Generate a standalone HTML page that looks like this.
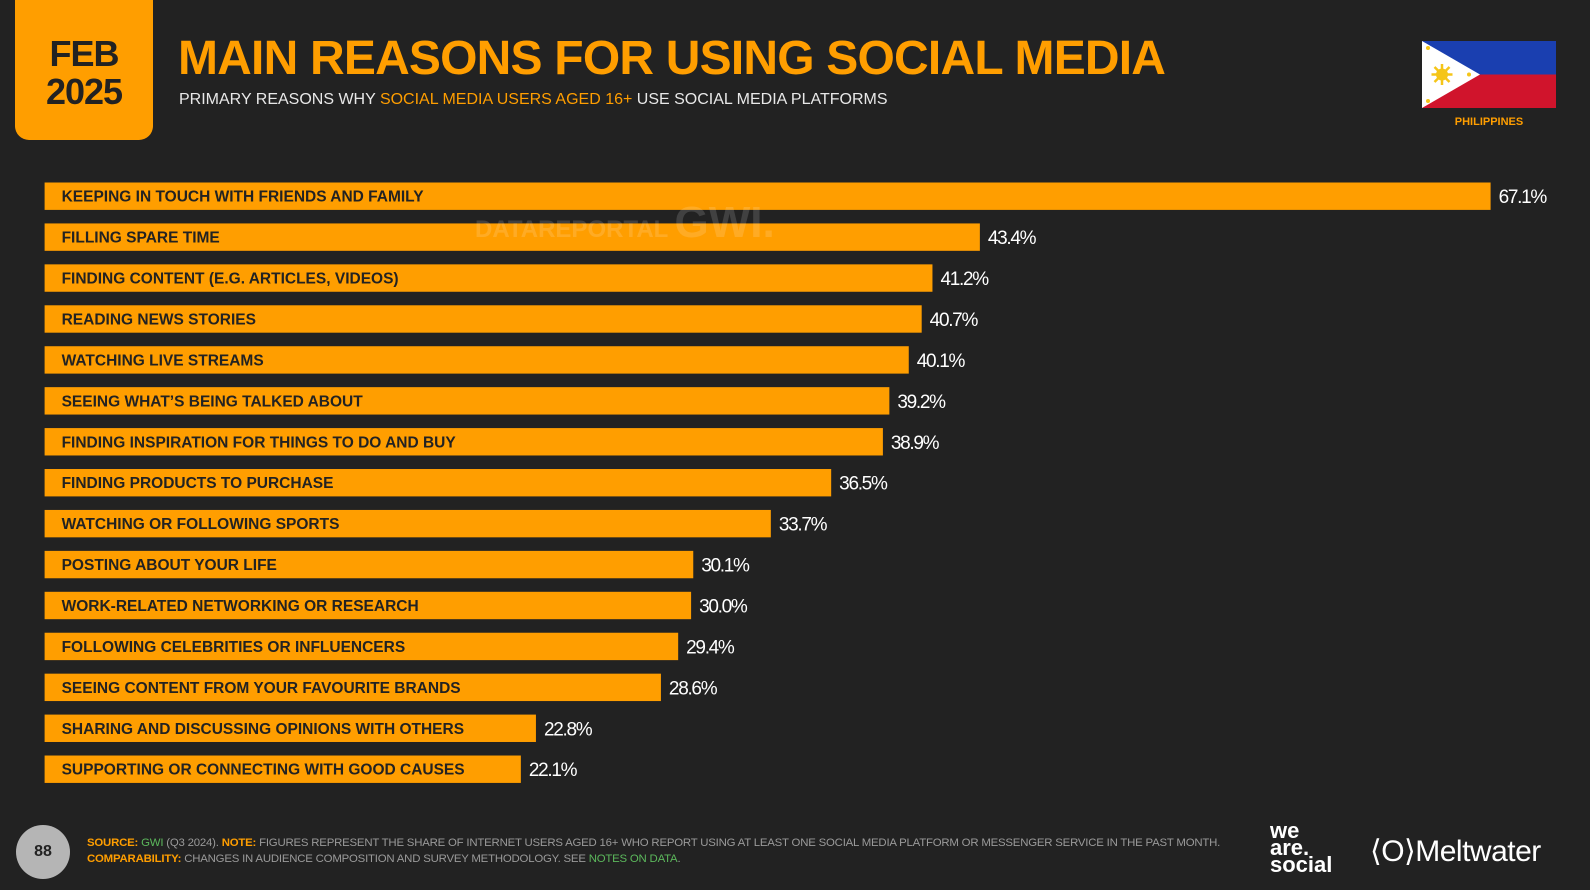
<!DOCTYPE html>
<html><head><meta charset="utf-8"><style>
body{margin:0;width:1590px;height:890px;background:#222222;font-family:"Liberation Sans",sans-serif;overflow:hidden;position:relative}
.a{position:absolute}
</style></head><body>
<div class="a" style="left:15px;top:0;width:138px;height:140px;background:#ff9e00;border-radius:0 0 14px 14px;color:#222;font-weight:bold;text-align:center;font-size:36px;line-height:38px;padding-top:35px;box-sizing:border-box;letter-spacing:-1px">FEB<br>2025</div>
<div class="a" style="left:178px;top:31px;font-size:48px;font-weight:bold;color:#ff9e00;letter-spacing:-0.8px">MAIN REASONS FOR USING SOCIAL MEDIA</div>
<div class="a" style="left:179px;top:91px;font-size:16px;color:#e8e8e8">PRIMARY REASONS WHY <span style="color:#ff9e00">SOCIAL MEDIA USERS AGED 16+</span> USE SOCIAL MEDIA PLATFORMS</div>
<svg class="a" style="left:1422px;top:41px" width="134" height="67" viewBox="0 0 134 67">
<rect width="134" height="33.5" fill="#1a3fb0"/><rect y="33.5" width="134" height="33.5" fill="#d0142c"/>
<polygon points="0,0 58,33.5 0,67" fill="#fff"/><circle cx="20" cy="33.5" r="6" fill="#f5c518"/>
<g stroke="#f5c518" stroke-width="2.5"><line x1="20" y1="23" x2="20" y2="44"/><line x1="9.5" y1="33.5" x2="30.5" y2="33.5"/><line x1="12.5" y1="26" x2="27.5" y2="41"/><line x1="27.5" y1="26" x2="12.5" y2="41"/></g>
<g fill="#f5c518"><circle cx="6" cy="7" r="2"/><circle cx="6" cy="60" r="2"/><circle cx="47" cy="33.5" r="2"/></g>
</svg>
<div class="a" style="left:1422px;top:116px;width:134px;text-align:center;font-size:11px;font-weight:bold;color:#ff9e00">PHILIPPINES</div>
<div class="a" style="left:475px;top:198px;font-size:24px;font-weight:bold;color:rgba(255,255,255,0.14);z-index:2">DATAREPORTAL <span style="font-size:44px">GWI.</span></div>
<svg class="a" id="chart" style="left:0;top:0" width="1590" height="890"></svg>
<div class="a" style="left:16px;top:825px;width:54px;height:54px;border-radius:50%;background:#b5b5b5;color:#222;font-weight:bold;font-size:16px;text-align:center;line-height:54px">88</div>
<div class="a" style="left:87px;top:835px;font-size:11.4px;color:#9a9a9a;line-height:16px;letter-spacing:-0.2px"><b style="color:#ff9e00">SOURCE:</b> <span style="color:#5cb85c">GWI</span> (Q3 2024). <b style="color:#ff9e00">NOTE:</b> FIGURES REPRESENT THE SHARE OF INTERNET USERS AGED 16+ WHO REPORT USING AT LEAST ONE SOCIAL MEDIA PLATFORM OR MESSENGER SERVICE IN THE PAST MONTH.<br><b style="color:#ff9e00">COMPARABILITY:</b> CHANGES IN AUDIENCE COMPOSITION AND SURVEY METHODOLOGY. SEE <span style="color:#5cb85c">NOTES ON DATA</span>.</div>
<div class="a" style="left:1270px;top:822px;color:#fff;font-weight:bold;font-size:22px;line-height:17px">we<br>are.<br>social</div>
<div class="a" style="left:1370px;top:834px;color:#fff;font-size:30px;letter-spacing:-0.5px">⟨O⟩Meltwater</div>
<script>
const categories=["KEEPING IN TOUCH WITH FRIENDS AND FAMILY","FILLING SPARE TIME","FINDING CONTENT (E.G. ARTICLES, VIDEOS)","READING NEWS STORIES","WATCHING LIVE STREAMS","SEEING WHAT’S BEING TALKED ABOUT","FINDING INSPIRATION FOR THINGS TO DO AND BUY","FINDING PRODUCTS TO PURCHASE","WATCHING OR FOLLOWING SPORTS","POSTING ABOUT YOUR LIFE","WORK-RELATED NETWORKING OR RESEARCH","FOLLOWING CELEBRITIES OR INFLUENCERS","SEEING CONTENT FROM YOUR FAVOURITE BRANDS","SHARING AND DISCUSSING OPINIONS WITH OTHERS","SUPPORTING OR CONNECTING WITH GOOD CAUSES"];
const values=[67.1,43.4,41.2,40.7,40.1,39.2,38.9,36.5,33.7,30.1,30.0,29.4,28.6,22.8,22.1];
const svg=document.getElementById('chart');
const NS='http://www.w3.org/2000/svg';
const x0=44.6,pxPer=21.55,y0=182.5,step=40.93,bh=27.4;
const xs=v=>v*pxPer, ys=i=>y0+i*step;
categories.forEach((c,i)=>{
 const r=document.createElementNS(NS,'rect');
 r.setAttribute('x',x0);r.setAttribute('y',ys(i));r.setAttribute('width',xs(values[i]));r.setAttribute('height',bh);r.setAttribute('fill','#ff9e00');
 
 
 svg.appendChild(r);
 const t=document.createElementNS(NS,'text');
 t.setAttribute('x',x0+17);t.setAttribute('y',ys(i)+bh/2+5.5);t.setAttribute('font-size','15.5');t.setAttribute('font-weight','bold');t.setAttribute('fill','#222');t.setAttribute('letter-spacing','0');
 t.textContent=c;
 
 
 svg.appendChild(t);
 const v=document.createElementNS(NS,'text');
 v.setAttribute('x',x0+xs(values[i])+8);v.setAttribute('y',ys(i)+bh/2+7);v.setAttribute('font-size','19');v.setAttribute('fill','#fff');v.setAttribute('letter-spacing','-1.3');
 v.textContent=values[i].toFixed(1)+'%';
 
 
 svg.appendChild(v);
});
</script>
</body></html>
